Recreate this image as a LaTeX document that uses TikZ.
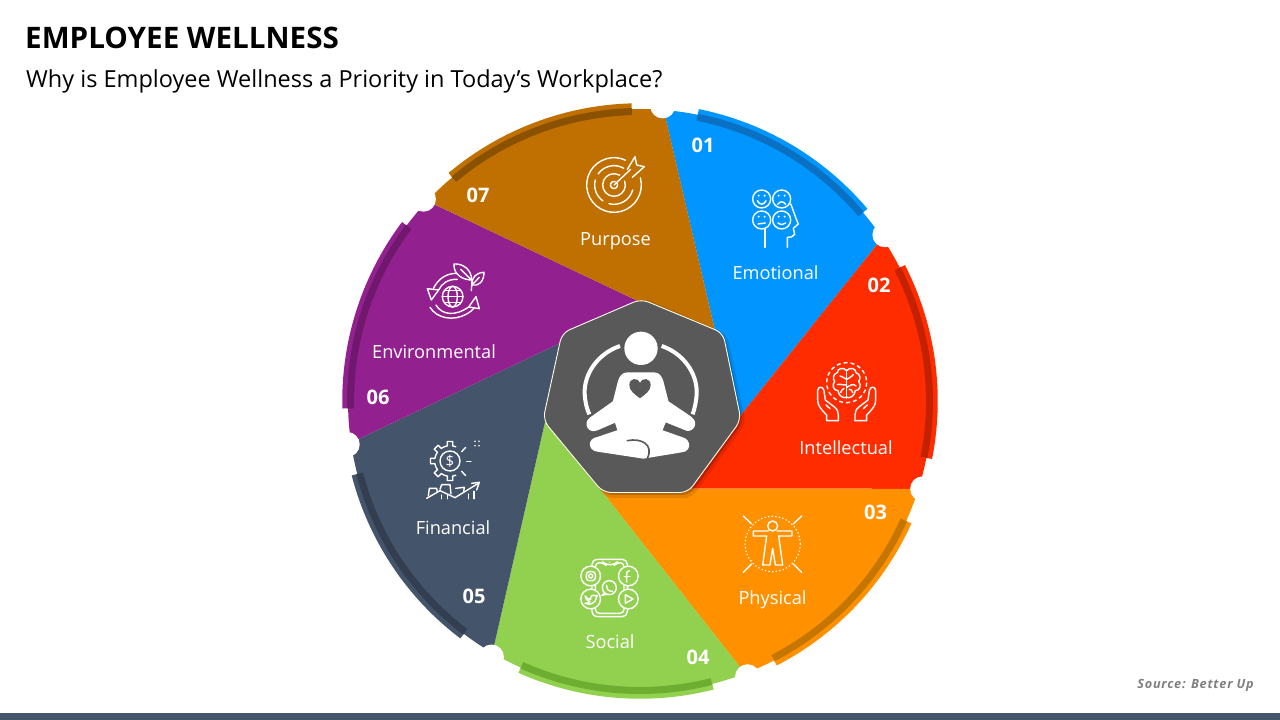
\documentclass[tikz,border=0pt]{standalone}
\usepackage{fontspec}
\setmainfont{Open Sans}
\newfontfamily\srcfont[LetterSpace=6]{Open Sans}
\definecolor{cblue}{HTML}{0095FF}\definecolor{dblue}{HTML}{0A70C2}
\definecolor{cred}{HTML}{FF2C00}\definecolor{dred}{HTML}{C42100}
\definecolor{corange}{HTML}{FF9000}\definecolor{dorange}{HTML}{C47600}
\definecolor{cgreen}{HTML}{92D14F}\definecolor{dgreen}{HTML}{6DAE30}
\definecolor{cnavy}{HTML}{44546A}\definecolor{dnavy}{HTML}{333F50}
\definecolor{cpurple}{HTML}{93208F}\definecolor{dpurple}{HTML}{70186E}
\definecolor{cbrown}{HTML}{BF7000}\definecolor{dbrown}{HTML}{8A5100}
\definecolor{hept}{HTML}{595959}
\tikzset{
  zm/.style 2 args={shift={(#1,720-#2)},y=-1pt,scale=1/3},
  ico/.style={draw=white,line width=1.4pt,line cap=round,line join=round},
  lbl/.style={text=white,inner sep=0pt,anchor=base,font=\fontsize{18.2}{20}\selectfont},
  num/.style={text=white,inner sep=0pt,anchor=base,font=\fontsize{20}{22}\selectfont\bfseries},
}
\newcommand{\oarc}[4]{([shift={(#1)}]#2:#4) arc[start angle=#2,end angle=#3,radius=#4]}
\begin{document}
\begin{tikzpicture}[x=1pt,y=1pt]
\useasboundingbox (0,0) rectangle (1280,720);
\fill[cnavy] (0,0) rectangle (1280,7);
\node[inner sep=0pt,anchor=base west,font=\fontsize{29.6}{32}\selectfont\bfseries] (title) at (25,671.5) {EMPLOYEE WELLNESS};
\node[inner sep=0pt,anchor=base west,font=\fontsize{23.5}{26}\selectfont] (sub) at (26,632.5) {Why is Employee Wellness a Priority in Today’s Workplace?};
\node[inner sep=0pt,anchor=base east,text=black!50,font=\srcfont\fontsize{12.7}{14}\selectfont\bfseries\itshape] (src) at (1254,31) {Source: Better Up};
% wedges
\begin{scope}[shift={(640,319)}]
\coordinate (I0) at (76,66);
\coordinate (I1) at (89,-29);
\coordinate (I2) at (40,-87.5);
\coordinate (I3) at (-40,-88);
\coordinate (I4) at (-90,1);
\coordinate (I5) at (-80,58);
\coordinate (I6) at (0,99);
\foreach \k/\col/\dk in {0/cblue/dblue,1/cred/dred,2/corange/dorange,3/cgreen/dgreen,4/cnavy/dnavy,5/cpurple/dpurple,6/cbrown/dbrown}{
  \pgfmathsetmacro\ta{85.6-51.43*\k}
  \pgfmathsetmacro\tb{\ta-51.43}
  \pgfmathsetmacro\sa{\ta-7}
  \pgfmathsetmacro\sb{\sa-38.4}
  \pgfmathtruncatemacro\n{mod(\k+1,7)}
  \fill[\col] (I\k) -- (\ta:296) -- (\ta:292) arc[start angle=\ta,end angle=\tb,radius=292] -- (\tb:296) -- (I\n) -- (0,0) -- cycle;
  \draw[\col,line width=6.5pt] (\sa:294.5) arc[start angle=\sa,end angle=\sb,radius=294.5];
  \draw[\dk,line width=7pt] (\sa:289.5) arc[start angle=\sa,end angle=\sb,radius=289.5];
}
\foreach \k in {0,...,6}{
  \pgfmathsetmacro\ta{85.6-51.43*\k}
  \fill[white] (\ta:296) circle[radius=12.5];
}
\end{scope}
% heptagon
\begin{scope}[shift={(0,720)},y=-1pt]
\path[fill=black,opacity=.10,rounded corners=8pt] (644,298)--(727,334)--(746,423)--(692,498)--(606,498)--(546,423)--(565,334)--cycle;
\path[fill=black,opacity=.20,rounded corners=8pt] (642.5,300)--(725,335)--(743,422)--(690,495)--(605,495)--(545,422)--(564,335)--cycle;
\path[fill=hept,draw=white!92!yellow,line width=.9pt,rounded corners=8pt] (641,299)--(723,333)--(741,420)--(688,492.5)--(603,492.5)--(543,420)--(562,333)--cycle;
\end{scope}
% meditating figure
\begin{scope}[zm={540}{295}]
\fill[white] (303,160) circle[radius=50];
\draw[white,line width=4pt] (240,153) .. controls (175,175) and (132,235) .. (134,295) .. controls (135,320) and (140,340) .. (148,358);
\draw[white,line width=4pt] (365,153) .. controls (430,175) and (472,235) .. (470,295) .. controls (469,320) and (464,340) .. (458,358);
\fill[white] (262,232) -- (342,232) .. controls (358,232) and (366,245) .. (370,258) -- (392,345) -- (368,405) -- (232,405) -- (212,345) -- (234,258) .. controls (238,245) and (246,232) .. (262,232) -- cycle;
\draw[white,line width=14.5pt,line cap=round] (232,338) -- (161,387);
\draw[white,line width=14.5pt,line cap=round] (372,338) -- (444,386);
\fill[white] (220,318) -- (150,368) -- (172,406) -- (242,376) -- cycle;
\fill[white] (384,318) -- (455,366) -- (432,404) -- (362,376) -- cycle;
\fill[white] (172,426) -- (240,403) -- (360,403) -- (425,426) .. controls (455,432) and (455,470) .. (425,472) -- (310,491) -- (172,470) .. controls (142,466) and (142,430) .. (172,426) -- cycle;
\draw[hept,line width=1.6pt,line cap=round] (262,437) .. controls (305,428) and (342,450) .. (322,490);
\fill[hept] (300,310) .. controls (285,298) and (268,288) .. (268,270) .. controls (268,250) and (292,245) .. (300,264) .. controls (308,245) and (332,250) .. (332,270) .. controls (332,288) and (315,298) .. (300,310) -- cycle;
\end{scope}
% target icon
\begin{scope}[zm={540}{100}]
\draw[ico] \oarc{222,255}{-15}{295}{82};
\draw[ico] \oarc{222,255}{15}{105}{58};
\draw[ico] \oarc{222,255}{125}{195}{58};
\draw[ico] \oarc{222,255}{215}{300}{58};
\draw[ico] \oarc{222,255}{-20}{300}{34};
\draw[ico] \oarc{222,255}{-30}{290}{11};
\draw[ico] (222,255) -- (272,208);
\draw[ico] (262,208) -- (285,170) -- (290,195) -- (313,200) -- (277,232);
\end{scope}
% emotional icon
\begin{scope}[zm={540}{100}]
\foreach \p in {(665,297),(725,297),(665,360),(725,360)} \draw[ico] \p circle[radius=27];
\draw[ico] (752,312) .. controls (760,330) and (765,350) .. (775,372) -- (760,385) -- (764,403) .. controls (760,412) and (750,412) .. (742,412) -- (742,442);
\draw[ico] (675,388) -- (675,442);
\draw[ico] (652,302) .. controls (658,316) and (672,316) .. (678,302);
\draw[ico] (713,313) .. controls (720,303) and (730,303) .. (737,313);
\draw[ico] (654,372) -- (676,369);
\draw[ico] (714,369) .. controls (722,375) and (730,375) .. (737,369);
\foreach \q in {(656,287),(674,287),(716,287),(734,287),(656,350),(674,350),(716,350),(734,350)} \fill[white] \q circle[radius=3.4];
\end{scope}
% brain icon
\begin{scope}[zm={790}{350}]
\draw[ico,line cap=butt,dash pattern=on 4pt off 3pt] (170,98) circle[radius=60];
\draw[ico] (170,60) -- (170,145);
\draw[ico] (170,62) .. controls (160,50) and (142,55) .. (142,68) .. controls (128,72) and (128,88) .. (134,94) .. controls (125,105) and (130,122) .. (144,122) .. controls (146,138) and (160,146) .. (170,142);
\draw[ico] (170,62) .. controls (180,50) and (198,55) .. (198,68) .. controls (212,72) and (212,88) .. (206,94) .. controls (215,105) and (210,122) .. (196,122) .. controls (194,138) and (180,146) .. (170,142);
\draw[ico] (150,78) .. controls (158,78) and (160,85) .. (170,88);
\draw[ico] (190,74) .. controls (182,80) and (180,85) .. (170,88);
\draw[ico] (142,104) .. controls (152,100) and (162,108) .. (170,104);
\draw[ico] (198,108) .. controls (190,98) and (178,108) .. (170,112);
\draw[ico] (152,128) .. controls (152,120) and (160,118) .. (162,115);
\draw[ico] (188,128) .. controls (188,120) and (182,118) .. (178,118);
\foreach \s/\o in {1/0,-1/340}{
\begin{scope}[shift={(\o,0)},xscale=\s]
\draw[ico] (145,212) -- (110,212) -- (110,195) .. controls (90,175) and (83,165) .. (83,150) -- (83,122) .. controls (83,108) and (100,108) .. (102,122) -- (106,150);
\draw[ico] (106,150) -- (132,170) .. controls (142,178) and (145,185) .. (145,195) -- (145,212);
\draw[ico] (108,165) -- (120,176);
\end{scope}}
\end{scope}
% physical icon
\begin{scope}[zm={640}{400}]
\draw[ico,dash pattern=on 0.4pt off 3.2pt] (398,432) circle[radius=83];
\draw[ico] (310,348) -- (335,372);
\draw[ico] (485,348) -- (460,372);
\draw[ico] (310,517) -- (335,492);
\draw[ico] (485,517) -- (460,492);
\draw[ico] (398,378) circle[radius=15];
\draw[ico] (385,393) -- (340,393) -- (340,408) -- (380,408) -- (368,495) -- (390,495) -- (398,445) -- (406,495) -- (428,495) -- (416,408) -- (456,408) -- (456,393) -- (411,393);
\end{scope}
% social icon
\begin{scope}[zm={570}{550}]
\draw[ico,rounded corners=5pt] (66,28) rectangle (172,200);
\draw[ico,rounded corners=4pt] (76,38) -- (100,38) -- (106,44) -- (134,44) -- (140,38) -- (162,38) -- (162,190) -- (76,190) -- cycle;
\fill[white] (119,37) circle[radius=2];
\foreach \p in {(62,78),(175,78),(62,147),(175,147)} \fill[cgreen] \p circle[radius=29.5];
\foreach \p in {(62,78),(175,78),(62,147),(175,147)} \draw[ico] \p circle[radius=29.5];
\draw[ico,fill=cgreen] (118,113) circle[radius=21];
\draw[ico] (104,128) -- (96,136) -- (110,133);
\draw[ico] (110,106) .. controls (110,122) and (118,124) .. (128,124);
\draw[ico,rounded corners=3pt] (49,65) rectangle (76,92);
\draw[ico] (62,78) circle[radius=6];
\draw[ico] (178,62) .. controls (170,62) and (170,68) .. (170,76) -- (170,96);
\draw[ico] (163,80) -- (180,80);
\draw[ico] (45,138) .. controls (50,145) and (55,148) .. (62,148) .. controls (60,138) and (70,132) .. (77,138) -- (82,136) -- (79,143) .. controls (78,158) and (60,168) .. (45,160) .. controls (52,160) and (57,158) .. (60,155) .. controls (52,152) and (46,148) .. (45,138) -- cycle;
\draw[ico] (166,134) -- (189,147) -- (166,160) -- cycle;
\end{scope}
% financial icon
\begin{scope}[zm={340}{400}]
\draw[ico] (330,183) circle[radius=30];
\foreach \a in {90,135,180,225,270}{
  \draw[ico] \oarc{330,183}{\a-22}{\a-10}{46} -- ([shift={(330,183)}]\a-8:59) -- ([shift={(330,183)}]\a+8:59) -- ([shift={(330,183)}]\a+10:46) arc[start angle=\a+10,end angle=\a+22,radius=46];
}
\draw[ico] (365,155) -- (377,142);
\draw[ico] (380,184) -- (393,184);
\draw[ico] (365,214) -- (377,227);
\foreach \p in {(405,124),(417,124),(405,137),(417,137)} \fill[white] \p circle[radius=2.6];
\draw[ico] (260,295) -- (300,272) -- (345,293) -- (415,250);
\draw[ico] (395,250) -- (418,247) -- (410,270);
\draw[ico] (265,288) -- (268,265) -- (290,265) -- (292,277);
\draw[ico] (300,268) -- (305,254) -- (330,254) -- (333,282);
\draw[ico] (347,265) -- (373,262) -- (371,274);
\foreach \x/\t in {305/285,322/285,385/282,402/274} \draw[ico] (\x,\t) -- (\x,296);
\end{scope}
\node[text=white,inner sep=0pt,font=\fontsize{15}{16}\selectfont] (dollar) at (450,259) {\$};
% globe icon
\begin{scope}[zm={340}{100}]
\draw[ico] (338,590) circle[radius=31];
\draw[ico] (338,590) ellipse[x radius=14,y radius=31];
\draw[ico] (307,590) -- (369,590);
\draw[ico] (313,572) -- (363,572);
\draw[ico] (313,608) -- (363,608);
\draw[ico] (262,566) -- (296,570) -- (274,600) -- cycle;
\draw[ico] (280,566) .. controls (295,535) and (320,520) .. (350,520);
\draw[ico] (296,570) .. controls (305,550) and (325,537) .. (352,538);
\draw[ico] (386,621) -- (418,626) -- (408,590) -- cycle;
\draw[ico] (270,622) .. controls (290,655) and (340,665) .. (380,642) .. controls (392,635) and (398,630) .. (402,624);
\draw[ico] (288,615) .. controls (305,645) and (345,650) .. (386,621);
\draw[ico] (342,492) .. controls (370,490) and (395,510) .. (395,540) .. controls (370,540) and (340,525) .. (342,492) -- cycle;
\draw[ico] (432,517) .. controls (410,518) and (395,530) .. (396,555) .. controls (415,560) and (432,545) .. (432,517) -- cycle;
\draw[ico] (362,508) -- (396,542) -- (394,572);
\draw[ico] (396,555) -- (418,532);
\end{scope}
% labels
\node[lbl] (l1) at (775.5,440) {Emotional};
\node[lbl] (l2) at (846,265) {Intellectual};
\node[lbl] (l3) at (772.5,115) {Physical};
\node[lbl] (l4) at (610,71) {Social};
\node[lbl] (l5) at (453,185) {Financial};
\node[lbl] (l6) at (434,361.5) {Environmental};
\node[lbl] (l7) at (615.5,474) {Purpose};
\node[num] (n1) at (703,567) {01};
\node[num] (n2) at (879,427) {02};
\node[num] (n3) at (875.5,200) {03};
\node[num] (n4) at (698,55) {04};
\node[num] (n5) at (474,116) {05};
\node[num] (n6) at (378,315) {06};
\node[num] (n7) at (478,517) {07};
\end{tikzpicture}
\end{document}
